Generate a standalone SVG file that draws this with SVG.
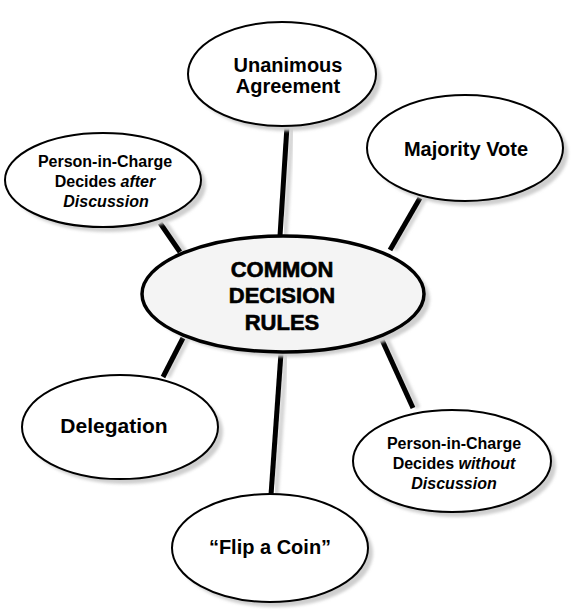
<svg xmlns="http://www.w3.org/2000/svg" width="574" height="611" viewBox="0 0 574 611">
<defs>
<filter id="blur" x="-10%" y="-10%" width="120%" height="120%"><feGaussianBlur stdDeviation="1.5"/></filter>
</defs>
<style>
.sh{fill:#cfcfcf;stroke:none;filter:url(#blur)}
.shl{stroke:#d4d4d4;stroke-width:5;fill:none;filter:url(#blur)}
.node{fill:#ffffff;stroke:#000;stroke-width:2}
.hub{fill:#f4f4f4;stroke:#000;stroke-width:3.5}
.ln{stroke:#000;stroke-width:5;fill:none}
text{font-family:"Liberation Sans",Arial,sans-serif;font-weight:bold;fill:#000;text-anchor:middle}
.t20{font-size:20px}
.t16{font-size:16px}
.hubt{font-size:22px;stroke:#000;stroke-width:0.6}
</style>
<rect width="574" height="611" fill="#ffffff"/>
<g id="connectors">
<line class="shl" x1="292" y1="126" x2="285" y2="236"/>
<line class="shl" x1="425" y1="198" x2="395" y2="250"/>
<line class="shl" x1="165" y1="223" x2="185" y2="252"/>
<line class="shl" x1="188" y1="338" x2="168" y2="377"/>
<line class="shl" x1="286" y1="353" x2="276" y2="495"/>
<line class="shl" x1="387" y1="340" x2="418" y2="408"/>
<line class="ln" x1="287" y1="126" x2="280" y2="236" stroke-width="4.5"/>
<line class="ln" x1="420" y1="198" x2="390" y2="250" stroke-width="6"/>
<line class="ln" x1="160" y1="223" x2="180" y2="252" stroke-width="6"/>
<line class="ln" x1="183" y1="338" x2="163" y2="377" stroke-width="6"/>
<line class="ln" x1="281" y1="353" x2="271" y2="495" stroke-width="4.5"/>
<line class="ln" x1="382" y1="340" x2="413" y2="408" stroke-width="6"/>
</g>
<g id="hub">
<ellipse class="sh" cx="289" cy="299" rx="141" ry="58"/>
<ellipse class="hub" cx="283" cy="294" rx="141" ry="58"/>
<text class="hubt" x="282" y="277">COMMON</text>
<text class="hubt" x="282" y="303">DECISION</text>
<text class="hubt" x="282" y="330">RULES</text>
</g>
<g id="unanimous">
<ellipse class="sh" cx="287" cy="79" rx="94" ry="52"/>
<ellipse class="node" cx="282" cy="74" rx="94" ry="52"/>
<text class="t20" x="288" y="72">Unanimous</text>
<text class="t20" x="288" y="93">Agreement</text>
</g>
<g id="majority">
<ellipse class="sh" cx="470" cy="153" rx="98" ry="53"/>
<ellipse class="node" cx="465" cy="148" rx="98" ry="53"/>
<text class="t20" x="466" y="156">Majority Vote</text>
</g>
<g id="after">
<ellipse class="sh" cx="108" cy="185" rx="98" ry="47"/>
<ellipse class="node" cx="103" cy="180" rx="98" ry="47"/>
<text class="t16" x="105" y="167">Person-in-Charge</text>
<text class="t16" x="105" y="187">Decides <tspan font-style="italic">after</tspan></text>
<text class="t16" x="106" y="207" font-style="italic">Discussion</text>
</g>
<g id="delegation">
<ellipse class="sh" cx="125" cy="432" rx="98" ry="52"/>
<ellipse class="node" cx="120" cy="427" rx="98" ry="52"/>
<text class="t20" x="114" y="433" style="font-size:21px">Delegation</text>
</g>
<g id="flip">
<ellipse class="sh" cx="275" cy="553" rx="98" ry="54"/>
<ellipse class="node" cx="270" cy="548" rx="98" ry="54"/>
<text class="t20" x="270" y="554">“Flip a Coin”</text>
</g>
<g id="without">
<ellipse class="sh" cx="457" cy="466" rx="99" ry="51"/>
<ellipse class="node" cx="452" cy="461" rx="99" ry="51"/>
<text class="t16" x="454" y="449">Person-in-Charge</text>
<text class="t16" x="454" y="469">Decides <tspan font-style="italic">without</tspan></text>
<text class="t16" x="454" y="489" font-style="italic">Discussion</text>
</g>
</svg>
